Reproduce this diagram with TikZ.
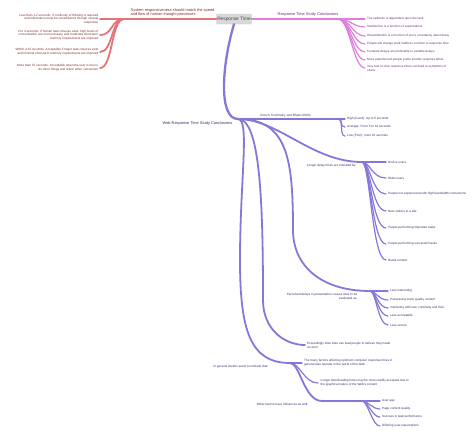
\documentclass[tikz,border=0pt]{standalone}
\usepackage{fontspec}
\setmainfont{Liberation Sans}
\definecolor{redbr}{HTML}{E5737A}
\definecolor{pinkbr}{HTML}{DD80DD}
\definecolor{bluebr}{HTML}{8478DA}
\definecolor{redtxt}{HTML}{7F2A2A}
\definecolor{pinktxt}{HTML}{6E2A7A}
\definecolor{bluetxt}{HTML}{30306A}
\begin{document}
\begin{tikzpicture}[x=1pt,y=-1pt,
  trunk/.style={line width=2.3pt,line cap=round},
  branch/.style={line width=1.8pt,line cap=round},
  twig/.style={line width=1.2pt,line cap=round},
  toplbl/.style={font=\fontsize{3.9pt}{4.6pt}\selectfont,inner sep=0.5pt,align=left},
  leaflbl/.style={font=\fontsize{3.1pt}{3.8pt}\selectfont,inner sep=0.5pt},
  rootbox/.style={fill=gray!30,draw=gray!45,rounded corners=0.8pt,minimum width=35pt,minimum height=10pt,inner sep=0pt,font=\fontsize{4.8pt}{5.5pt}\selectfont,text=black!75}]
\useasboundingbox (0,0) rectangle (474,437);

\node[rootbox] (root) at (234,19) {Response Time};

\coordinate (sys) at (124,19);
\draw[trunk,redbr] (root.west) -- (sys);
\node[toplbl,text=redtxt,anchor=south west] (syslbl) at (130,17.5) {System responsiveness should match the speed\\and flow of human thought processes.};
\foreach \n/\y/\txt in {r1/19/{Less than 1-2 seconds: If continuity of thinking is required\\and information must be remembered through several\\responses},
  r2/35/{2 to 4 seconds: If human task closures exist, high levels of\\concentration are not necessary, and moderate short-term\\memory requirements are imposed},
  r3/52/{Within 4-15 seconds: Acceptable if major task closures exist\\and minimal short-term memory requirements are imposed},
  r4/68/{More than 15 seconds: Acceptable when the user is free to\\do other things and return when convenient}} {
  \coordinate (\n) at (100,\y);
  \draw[branch,redbr] (sys) .. controls +(-13,0) and +(13,0) .. (\n);
  \node[leaflbl,text=redtxt,anchor=east,align=right] (\n t) at ([xshift=-1pt]\n) {\txt};
}

\coordinate (rtc) at (338,19);
\draw[trunk,pinkbr] (root.east) -- (rtc);
\node[toplbl,text=pinktxt,anchor=south west] (rtclbl) at (277,17.5) {Response Time Study Conclusions};
\foreach \n/\y/\txt in {p1/19/{The optimum is dependent upon the task},
  p2/27/{Satisfaction is a function of expectations},
  p3/36/{Dissatisfaction is a function of one's uncertainty about delay},
  p4/44/{People will change work habits to conform to response time},
  p5/52/{Constant delays are preferable to variable delays},
  p6/60/{More experienced people prefer shorter response times},
  p7/68/{Very fast or slow response times can lead to symptoms of\\stress}} {
  \coordinate (\n) at (365,\y);
  \draw[twig,pinkbr] (rtc) .. controls +(12,0) and +(-12,0) .. (\n);
  \node[leaflbl,text=pinktxt,anchor=west,align=left] (\n t) at ([xshift=1.5pt]\n) {\txt};
}

\coordinate (web) at (238,119);
\draw[trunk,bluebr] (root.south) .. controls +(-12,40) and +(-20,0) .. (web);
\node[toplbl,text=bluetxt,anchor=north east] (weblbl) at (233,121) {Web Response Time Study Conclusions};

\coordinate (bouch) at (338,119);
\draw[branch,bluebr] (web) -- (bouch);
\node[leaflbl,text=bluetxt,anchor=south west] (bouchlbl) at (260,117.5) {Bouch, Kuchinsky, and Bhatti (2000)};
\foreach \n/\y/\txt in {b1/119/{High (Good): Up to 5 seconds},
  b2/127/{Average: From 5 to 10 seconds},
  b3/136/{Low (Poor): Over 10 seconds}} {
  \coordinate (\n) at (345,\y);
  \draw[twig,bluebr] (bouch) .. controls +(6,0) and +(-6,0) .. (\n);
  \node[leaflbl,text=bluetxt,anchor=west] (\n t) at ([xshift=1.5pt]\n) {\txt};
}

\coordinate (longer) at (362,162);
\draw[branch,bluebr] (web) .. controls +(40,0) and +(-50,0) .. (longer);
\node[leaflbl,text=bluetxt,anchor=north east] (longerlbl) at (357,163.5) {Longer delay times are tolerated by:};
\foreach \n/\y/\txt in {l1/162/{Novice users},
  l2/178/{Older users},
  l3/194/{People not experienced with high bandwidth connections},
  l4/211/{New visitors to a site},
  l5/228/{People performing important tasks},
  l6/244/{People performing successful tasks},
  l7/260/{Retail content}} {
  \coordinate (\n) at (386,\y);
  \draw[twig,bluebr] (longer) .. controls +(8,0) and +(-14,0) .. (\n);
  \node[leaflbl,text=bluetxt,anchor=west] (\n t) at ([xshift=1.5pt]\n) {\txt};
}

\coordinate (pmid) at (293,230);
\coordinate (percv) at (370,291);
\draw[branch,bluebr] (web) .. controls +(50,0) and +(0,-70) .. (pmid) .. controls +(0,35) and +(-50,0) .. (percv);
\node[leaflbl,text=bluetxt,anchor=north east,align=right] (percvlbl) at (358,292.5) {Perceived delays in presentation causes sites to be\\evaluated as:};
\foreach \n/\y/\txt in {v1/291/{Less interesting},
  v2/300/{Possessing lower quality content},
  v3/308/{Interfering with user continuity and flow},
  v4/316/{Less acceptable},
  v5/325/{Less secure}} {
  \coordinate (\n) at (388,\y);
  \draw[twig,bluebr] (percv) .. controls +(6,0) and +(-10,0) .. (\n);
  \node[leaflbl,text=bluetxt,anchor=west] (\n t) at ([xshift=1.5pt]\n) {\txt};
}

\coordinate (emid) at (263,300);
\coordinate (exceed) at (305,345);
\draw[branch,bluebr] (web) .. controls +(22,0) and +(0,-100) .. (emid) .. controls +(0,30) and +(-20,0) .. (exceed);
\node[leaflbl,text=bluetxt,anchor=west,align=left] (exceedt) at ([xshift=1.5pt]exceed) {Exceedingly slow sites can lead people to believe they made\\an error};

\coordinate (gmid) at (240,260);
\coordinate (gen) at (290,363);
\draw[branch,bluebr] (web) .. controls +(12,0) and +(0,-80) .. (gmid) .. controls +(0,70) and +(-40,0) .. (gen);
\node[leaflbl,text=bluetxt,anchor=north east] (genlbl) at (269,364.5) {In general studies seem to indicate that:};
\coordinate (g1) at (302,363);
\coordinate (g2) at (318,383);
\coordinate (gother) at (322,401);
\draw[twig,bluebr] (gen) -- (g1);
\draw[twig,bluebr] (gen) .. controls +(10,0) and +(-14,0) .. (g2);
\draw[branch,bluebr] (gen) .. controls +(10,0) and +(-18,0) .. (gother);
\node[leaflbl,text=bluetxt,anchor=west,align=left] (g1t) at ([xshift=1.5pt]g1) {The many factors affecting optimum computer response times in\\general also operate in the world of the Web};
\node[leaflbl,text=bluetxt,anchor=west,align=left] (g2t) at ([xshift=2pt]g2) {Longer downloading times may be more readily accepted due to\\the graphical nature of the Web's content};

\coordinate (other) at (362,401);
\draw[branch,bluebr] (gother) -- (other);
\node[leaflbl,text=bluetxt,anchor=north east] (otherlbl) at (309,403) {Other factors have influences as well:};
\foreach \n/\y/\txt in {o1/401/{User age},
  o2/409/{Page content quality},
  o3/417/{Success in task performance},
  o4/426/{Differing user expectations}} {
  \coordinate (\n) at (380,\y);
  \draw[twig,bluebr] (other) .. controls +(6,0) and +(-8,0) .. (\n);
  \node[leaflbl,text=bluetxt,anchor=west] (\n t) at ([xshift=1.5pt]\n) {\txt};
}
\end{tikzpicture}
\end{document}
